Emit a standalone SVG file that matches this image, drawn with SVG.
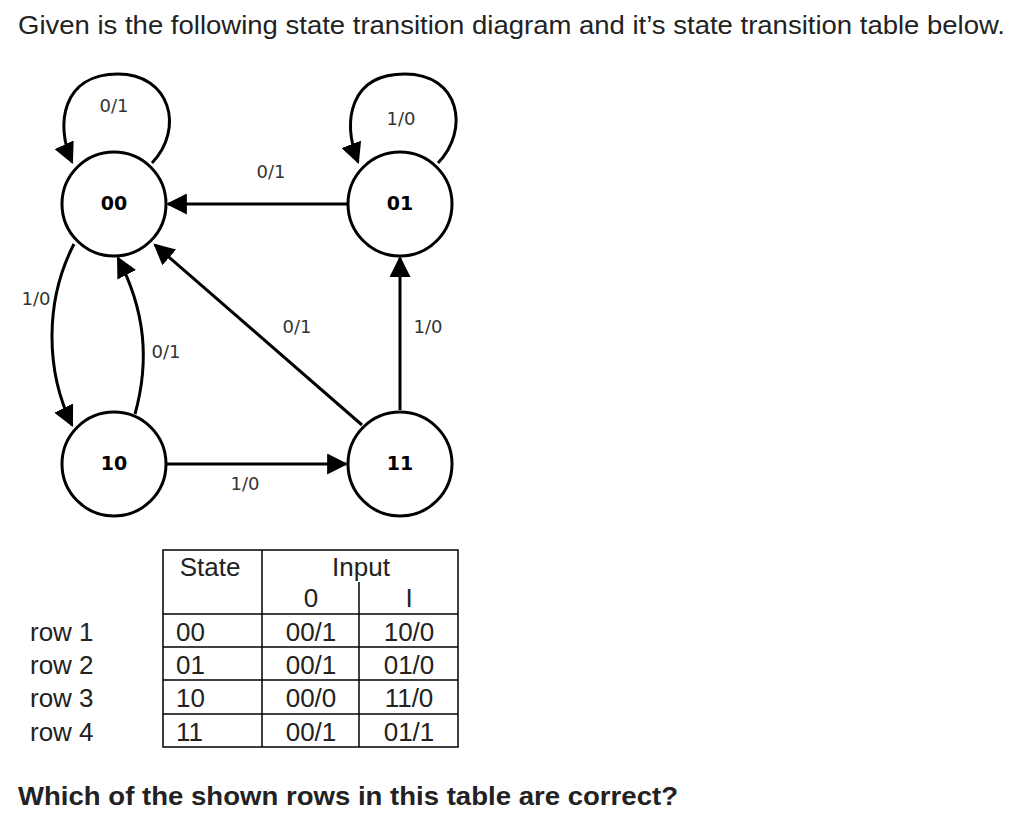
<svg xmlns="http://www.w3.org/2000/svg" width="1024" height="813" viewBox="0 0 1024 813">
<style>
.n{fill:#fff;stroke:#000;stroke-width:3}
.c{fill:none;stroke:#000;stroke-width:3}
.nl{font-family:"DejaVu Sans",sans-serif;font-weight:bold;font-size:19px;text-anchor:middle}
.el{font-family:"DejaVu Sans",sans-serif;font-size:18px;fill:#333;text-anchor:middle}
.t{font-family:"Liberation Sans",Arial,sans-serif;font-size:26px;fill:#222}
.tb{font-family:"Liberation Sans",Arial,sans-serif;font-size:26px;fill:#222;text-anchor:middle}
.g{stroke:#000;stroke-width:1.5;fill:none}
</style>
<defs><marker id="b" viewBox="0 0 10 10" refX="9" refY="5" markerWidth="7" markerHeight="7" orient="auto"><path d="M0,0L10,5L0,10z"/></marker></defs>
<rect width="1024" height="813" fill="#fff"/>
<text class="t" x="18" y="34" textLength="987" lengthAdjust="spacingAndGlyphs">Given is the following state transition diagram and it’s state transition table below.</text>
<g id="connectors">
<path class="c" d="M152,163 C185,128 170,74 118,74 C62,74 55,125 72,162" marker-end="url(#b)"/>
<path class="c" d="M438,163 C470,130 460,74 405,74 C350,74 342,120 358,162" marker-end="url(#b)"/>
<path class="c" d="M348,204 L168,204" marker-end="url(#b)"/>
<path class="c" d="M74,244 C45,300 45,370 72,425" marker-end="url(#b)"/>
<path class="c" d="M135,414 C150,360 145,310 118,258" marker-end="url(#b)"/>
<path class="c" d="M362,425 L155,245" marker-end="url(#b)"/>
<path class="c" d="M400,410 L400,258" marker-end="url(#b)"/>
<path class="c" d="M166,464 L346,464" marker-end="url(#b)"/>
</g>
<g id="labels">
<text class="el" x="114" y="112">0/1</text>
<text class="el" x="401" y="125">1/0</text>
<text class="el" x="271" y="178">0/1</text>
<text class="el" x="36" y="305">1/0</text>
<text class="el" x="166" y="358">0/1</text>
<text class="el" x="297" y="333">0/1</text>
<text class="el" x="428" y="333">1/0</text>
<text class="el" x="245" y="490">1/0</text>
</g>
<g id="n00"><circle class="n" cx="114" cy="204" r="52"/><text class="nl" x="114" y="210">00</text></g>
<g id="n01"><circle class="n" cx="400" cy="204" r="52"/><text class="nl" x="400" y="210">01</text></g>
<g id="n10"><circle class="n" cx="114" cy="464" r="52"/><text class="nl" x="114" y="470">10</text></g>
<g id="n11"><circle class="n" cx="400" cy="464" r="52"/><text class="nl" x="400" y="470">11</text></g>
<g id="table">
<rect class="g" x="163" y="550" width="295" height="197"/>
<line class="g" x1="262" y1="550" x2="262" y2="747"/>
<line class="g" x1="359" y1="582" x2="359" y2="747"/>
<line class="g" x1="163" y1="614" x2="458" y2="614"/>
<line class="g" x1="163" y1="647" x2="458" y2="647"/>
<line class="g" x1="163" y1="680" x2="458" y2="680"/>
<line class="g" x1="163" y1="714" x2="458" y2="714"/>
<text class="tb" x="210" y="576">State</text>
<text class="tb" x="361" y="576">Input</text>
<text class="tb" x="311" y="607">0</text>
<text class="tb" x="409" y="607">I</text>
<text class="t" x="30" y="641">row 1</text><text class="t" x="176" y="641">00</text><text class="tb" x="311" y="641">00/1</text><text class="tb" x="409" y="641">10/0</text>
<text class="t" x="30" y="674">row 2</text><text class="t" x="176" y="674">01</text><text class="tb" x="311" y="674">00/1</text><text class="tb" x="409" y="674">01/0</text>
<text class="t" x="30" y="707">row 3</text><text class="t" x="176" y="707">10</text><text class="tb" x="311" y="707">00/0</text><text class="tb" x="409" y="707">11/0</text>
<text class="t" x="30" y="741">row 4</text><text class="t" x="176" y="741">11</text><text class="tb" x="311" y="741">00/1</text><text class="tb" x="409" y="741">01/1</text>
</g>
<text class="t" x="18" y="805" font-weight="bold" textLength="660" lengthAdjust="spacingAndGlyphs">Which of the shown rows in this table are correct?</text>
</svg>
